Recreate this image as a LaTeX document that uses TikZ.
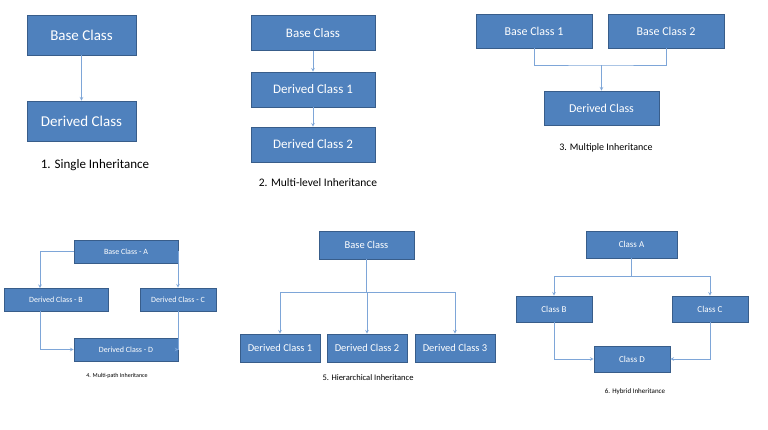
\documentclass[tikz,border=0pt]{standalone}
\usepackage{fontspec}
\setmainfont{Carlito}
\usepackage{tikz}
\usetikzlibrary{arrows,positioning}
\definecolor{boxfill}{HTML}{4F81BD}
\definecolor{boxline}{HTML}{385D8A}
\definecolor{wire}{HTML}{7EA6D8}

\tikzset{
  cls/.style={rectangle,draw=boxline,fill=boxfill,text=white,line width=0.8pt,inner sep=0pt},
  wire/.style={draw=wire,line width=0.6pt},
  arr/.style={wire,-stealth},
  caption/.style={inner sep=0pt,text=black}
}

\begin{document}
\begin{tikzpicture}[x=1pt,y=-1pt]
      \useasboundingbox[fill=white] (0,0) rectangle (768,429);

      % 1. single
      \node[cls,minimum width=109pt,minimum height=40pt,font=\fontsize{15}{18}\selectfont] (sBase) at (81.5,35) {Base Class};
      \node[cls,minimum width=109pt,minimum height=40pt,font=\fontsize{15}{18}\selectfont] (sDer) at (81.5,121) {Derived Class};
      \draw[arr] (sBase) -- (sDer);
      \node[caption,font=\fontsize{13}{15}\selectfont] (sCap) at (95,165) {1. Single Inheritance};

      % 2. multi-level
      \node[cls,minimum width=124pt,minimum height=35pt,font=\fontsize{13}{15}\selectfont] (lBase) at (313,33) {Base Class};
      \node[cls,minimum width=124pt,minimum height=35pt,font=\fontsize{13}{15}\selectfont] (lDer1) at (313,89.5) {Derived Class 1};
      \node[cls,minimum width=124pt,minimum height=35pt,font=\fontsize{13}{15}\selectfont] (lDer2) at (313,144.5) {Derived Class 2};
      \draw[arr] (lBase) -- (lDer1);
      \draw[arr] (lDer1) -- (lDer2);
      \node[caption,font=\fontsize{11.5}{14}\selectfont] (lCap) at (318,183) {2. Multi-level Inheritance};

      % 3. multiple
      \node[cls,minimum width=116pt,minimum height=34pt,font=\fontsize{12}{14}\selectfont] (mBase1) at (534,31) {Base Class 1};
      \node[cls,minimum width=116pt,minimum height=34pt,font=\fontsize{12}{14}\selectfont] (mBase2) at (666,31) {Base Class 2};
      \node[cls,minimum width=115pt,minimum height=34pt,font=\fontsize{12}{14}\selectfont] (mDer) at (601.5,108) {Derived Class};
      \coordinate (mJoin) at (601.5,65);
      \draw[wire] (mBase1.south) |- (mJoin) -| (mBase2.south);
      \draw[arr] (mJoin) -- (mDer);
      \node[caption,font=\fontsize{10}{12}\selectfont] (mCap) at (606,148) {3. Multiple Inheritance};

      % 4. multi-path
      \node[cls,minimum width=104pt,minimum height=23pt,font=\fontsize{8}{10}\selectfont] (pA) at (126,251.5) {Base Class - A};
      \node[cls,minimum width=104pt,minimum height=23pt,font=\fontsize{8}{10}\selectfont] (pB) at (56,299.5) {Derived Class - B};
      \node[cls,minimum width=76pt,minimum height=23pt,font=\fontsize{8}{10}\selectfont] (pC) at (178,299.5) {Derived Class - C};
      \node[cls,minimum width=104pt,minimum height=23pt,font=\fontsize{8}{10}\selectfont] (pD) at (126,349.5) {Derived Class - D};
      \coordinate (pBtop) at (40,288);
      \coordinate (pBbot) at (40,311);
      \draw[arr] (pA.west) -| (pBtop);
      \draw[arr] (pA.east) -| (pC.north);
      \draw[arr] (pBbot) |- (pD.west);
      \draw[arr] (pC.south) |- (pD.east);
      \node[caption,font=\fontsize{6}{7}\selectfont] (pCap) at (117,376) {4. Multi-path Inheritance};

      % 5. hierarchical
      \node[cls,minimum width=95pt,minimum height=28pt,font=\fontsize{10.5}{12}\selectfont] (hBase) at (366.5,245) {Base Class};
      \node[cls,minimum width=80pt,minimum height=28pt,font=\fontsize{10.5}{12}\selectfont] (hDer1) at (280,348) {Derived Class 1};
      \node[cls,minimum width=80pt,minimum height=28pt,font=\fontsize{10.5}{12}\selectfont] (hDer2) at (367,348) {Derived Class 2};
      \node[cls,minimum width=80pt,minimum height=28pt,font=\fontsize{10.5}{12}\selectfont] (hDer3) at (455,348) {Derived Class 3};
      \coordinate (hJoin) at (366.5,292);
      \draw[wire] (hBase) -- (hJoin);
      \draw[arr] (hJoin) -| (hDer1.north);
      \draw[arr] (hJoin) -| (hDer2.north);
      \draw[arr] (hJoin) -| (hDer3.north);
      \node[caption,font=\fontsize{8.5}{10}\selectfont] (hCap) at (368,378) {5. Hierarchical Inheritance};

      % 6. hybrid
      \node[cls,minimum width=91pt,minimum height=27pt,font=\fontsize{9}{11}\selectfont] (yA) at (631.5,244.5) {Class A};
      \node[cls,minimum width=76pt,minimum height=26pt,font=\fontsize{9}{11}\selectfont] (yB) at (554,309) {Class B};
      \node[cls,minimum width=76pt,minimum height=26pt,font=\fontsize{9}{11}\selectfont] (yC) at (710,309) {Class C};
      \node[cls,minimum width=76pt,minimum height=26pt,font=\fontsize{9}{11}\selectfont] (yD) at (632,359) {Class D};
      \coordinate (yJoin) at (631.5,276);
      \draw[wire] (yA) -- (yJoin);
      \draw[arr] (yJoin) -| (yB.north);
      \draw[arr] (yJoin) -| (yC.north);
      \draw[arr] (yB.south) |- (yD.west);
      \draw[arr] (yC.south) |- (yD.east);
      \node[caption,font=\fontsize{7}{8}\selectfont] (yCap) at (635,392) {6. Hybrid Inheritance};

\end{tikzpicture}
\end{document}
